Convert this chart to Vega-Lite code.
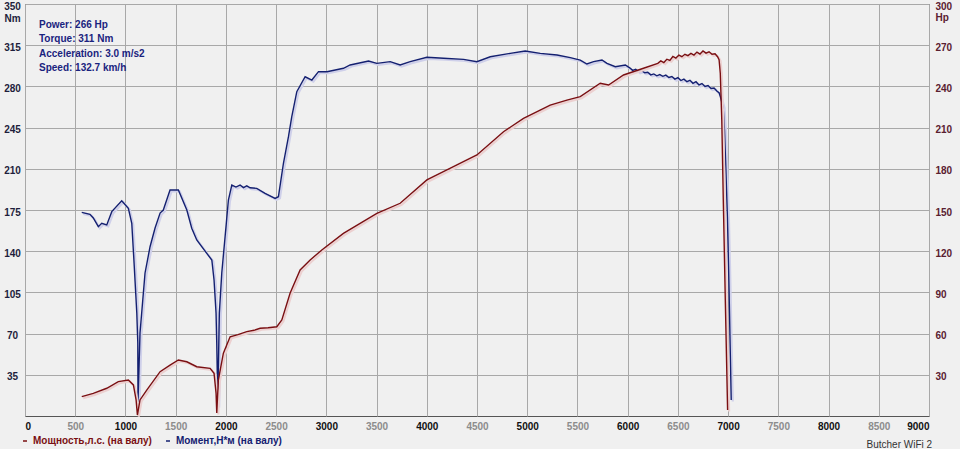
{
  "$schema": "https://vega.github.io/schema/vega-lite/v6.json",
  "width": 904,
  "height": 412,
  "autosize": {"type": "none"},
  "padding": {"left": 25, "top": 4, "right": 31, "bottom": 33},
  "background": "#f0f0f0",
  "config": {
    "view": {"stroke": "#555555", "strokeWidth": 1, "fill": "#f0f0f0"},
    "font": "Liberation Sans",
    "axis": {
      "labelFont": "Liberation Sans",
      "labelFontSize": 10,
      "labelFontWeight": "bold",
      "ticks": false,
      "gridColor": "#a8a8a8",
      "gridOpacity": 1,
      "gridWidth": 1,
      "domain": false
    }
  },
  "title": {
    "text": ["Power: 266 Hp", "Torque: 311 Nm", "Acceleration: 3.0 m/s2", "Speed: 132.7 km/h"],
    "anchor": "start",
    "frame": "group",
    "orient": "top",
    "baseline": "top",
    "dx": 14,
    "offset": -72,
    "lineHeight": 14.5,
    "fontSize": 10,
    "font": "Liberation Sans",
    "fontWeight": "bold",
    "color": "#1a237e"
  },
  "datasets": {
    "torque": [
      {"rpm": 565, "nm": 173.0}, {"rpm": 647, "nm": 171.3}, {"rpm": 680, "nm": 168.2}, {"rpm": 730, "nm": 160.8},
      {"rpm": 764, "nm": 163.7}, {"rpm": 814, "nm": 162.3}, {"rpm": 864, "nm": 173.6}, {"rpm": 963, "nm": 182.9},
      {"rpm": 1029, "nm": 176.4}, {"rpm": 1063, "nm": 163.7}, {"rpm": 1086, "nm": 129.8}, {"rpm": 1113, "nm": 87.5},
      {"rpm": 1123, "nm": 62.0}, {"rpm": 1125, "nm": 11.9}, {"rpm": 1145, "nm": 70.5}, {"rpm": 1195, "nm": 121.5},
      {"rpm": 1245, "nm": 143.8}, {"rpm": 1295, "nm": 159.7}, {"rpm": 1345, "nm": 172.4}, {"rpm": 1377, "nm": 175.0},
      {"rpm": 1444, "nm": 192.0}, {"rpm": 1527, "nm": 192.0}, {"rpm": 1611, "nm": 175.0}, {"rpm": 1660, "nm": 159.5},
      {"rpm": 1710, "nm": 149.5}, {"rpm": 1810, "nm": 138.2}, {"rpm": 1860, "nm": 132.5}, {"rpm": 1882, "nm": 115.5},
      {"rpm": 1902, "nm": 87.5}, {"rpm": 1909, "nm": 62.0}, {"rpm": 1915, "nm": 33.4}, {"rpm": 1918, "nm": 8.5},
      {"rpm": 1935, "nm": 87.5}, {"rpm": 1959, "nm": 121.5}, {"rpm": 1992, "nm": 152.3}, {"rpm": 2025, "nm": 183.5},
      {"rpm": 2059, "nm": 196.2}, {"rpm": 2100, "nm": 194.5}, {"rpm": 2141, "nm": 196.2}, {"rpm": 2175, "nm": 194.0},
      {"rpm": 2208, "nm": 195.5}, {"rpm": 2241, "nm": 193.9}, {"rpm": 2307, "nm": 193.4}, {"rpm": 2390, "nm": 189.2},
      {"rpm": 2490, "nm": 184.9}, {"rpm": 2523, "nm": 186.3}, {"rpm": 2573, "nm": 214.7}, {"rpm": 2623, "nm": 237.3},
      {"rpm": 2656, "nm": 254.3}, {"rpm": 2706, "nm": 275.5}, {"rpm": 2789, "nm": 288.2}, {"rpm": 2856, "nm": 285.4},
      {"rpm": 2922, "nm": 292.5}, {"rpm": 3006, "nm": 292.5}, {"rpm": 3171, "nm": 295.4}, {"rpm": 3237, "nm": 298.2},
      {"rpm": 3420, "nm": 301.6}, {"rpm": 3503, "nm": 299.6}, {"rpm": 3636, "nm": 301.0}, {"rpm": 3735, "nm": 298.2},
      {"rpm": 3835, "nm": 301.0}, {"rpm": 4001, "nm": 304.7}, {"rpm": 4167, "nm": 303.9}, {"rpm": 4366, "nm": 303.0},
      {"rpm": 4499, "nm": 301.0}, {"rpm": 4632, "nm": 305.2}, {"rpm": 4831, "nm": 308.1}, {"rpm": 4980, "nm": 310.1},
      {"rpm": 5130, "nm": 308.1}, {"rpm": 5297, "nm": 306.7}, {"rpm": 5429, "nm": 304.5}, {"rpm": 5528, "nm": 302.4},
      {"rpm": 5594, "nm": 299.0}, {"rpm": 5661, "nm": 301.0}, {"rpm": 5744, "nm": 302.4}, {"rpm": 5794, "nm": 299.6},
      {"rpm": 5877, "nm": 296.7}, {"rpm": 5977, "nm": 298.2},
      {"rpm": 6020, "nm": 295.8}, {"rpm": 6050, "nm": 293.6}, {"rpm": 6080, "nm": 294.6}, {"rpm": 6110, "nm": 292.4},
      {"rpm": 6140, "nm": 293.4}, {"rpm": 6170, "nm": 291.6}, {"rpm": 6200, "nm": 292.0}, {"rpm": 6230, "nm": 289.8},
      {"rpm": 6260, "nm": 290.6}, {"rpm": 6290, "nm": 289.0}, {"rpm": 6320, "nm": 290.0}, {"rpm": 6350, "nm": 288.6},
      {"rpm": 6380, "nm": 289.6}, {"rpm": 6410, "nm": 287.6}, {"rpm": 6440, "nm": 288.4}, {"rpm": 6470, "nm": 286.2},
      {"rpm": 6500, "nm": 287.4}, {"rpm": 6530, "nm": 285.0}, {"rpm": 6560, "nm": 286.2}, {"rpm": 6590, "nm": 284.0},
      {"rpm": 6620, "nm": 285.2}, {"rpm": 6650, "nm": 282.6}, {"rpm": 6680, "nm": 284.0}, {"rpm": 6710, "nm": 281.2},
      {"rpm": 6740, "nm": 282.4}, {"rpm": 6770, "nm": 280.0}, {"rpm": 6800, "nm": 280.8}, {"rpm": 6830, "nm": 278.2},
      {"rpm": 6860, "nm": 278.6}, {"rpm": 6890, "nm": 275.8}, {"rpm": 6910, "nm": 274.6},
      {"rpm": 6923, "nm": 271.2}, {"rpm": 6950, "nm": 262.7}, {"rpm": 6964, "nm": 243.0},
      {"rpm": 6977, "nm": 211.8}, {"rpm": 6993, "nm": 169.3}, {"rpm": 7008, "nm": 113.0}, {"rpm": 7031, "nm": 13.6}
    ],
    "power": [
      {"rpm": 565, "hp": 14.1}, {"rpm": 680, "hp": 16.5}, {"rpm": 814, "hp": 20.2}, {"rpm": 929, "hp": 25.0},
      {"rpm": 1029, "hp": 26.2}, {"rpm": 1079, "hp": 22.6}, {"rpm": 1106, "hp": 11.7}, {"rpm": 1119, "hp": 0.7},
      {"rpm": 1145, "hp": 11.7}, {"rpm": 1212, "hp": 18.9}, {"rpm": 1345, "hp": 32.3}, {"rpm": 1444, "hp": 37.1},
      {"rpm": 1527, "hp": 40.8}, {"rpm": 1611, "hp": 39.5}, {"rpm": 1710, "hp": 35.9}, {"rpm": 1843, "hp": 34.7},
      {"rpm": 1882, "hp": 31.1}, {"rpm": 1902, "hp": 16.7}, {"rpm": 1909, "hp": 2.2}, {"rpm": 1925, "hp": 26.2},
      {"rpm": 1975, "hp": 45.7}, {"rpm": 2042, "hp": 57.7}, {"rpm": 2120, "hp": 59.3}, {"rpm": 2208, "hp": 61.4},
      {"rpm": 2280, "hp": 62.4}, {"rpm": 2341, "hp": 63.9}, {"rpm": 2420, "hp": 64.3},
      {"rpm": 2507, "hp": 65.0}, {"rpm": 2557, "hp": 69.9}, {"rpm": 2639, "hp": 89.4}, {"rpm": 2739, "hp": 106.3},
      {"rpm": 2839, "hp": 113.6}, {"rpm": 2955, "hp": 120.9}, {"rpm": 3170, "hp": 133.0}, {"rpm": 3503, "hp": 147.6},
      {"rpm": 3735, "hp": 154.9}, {"rpm": 4001, "hp": 171.9}, {"rpm": 4300, "hp": 182.8}, {"rpm": 4499, "hp": 190.1},
      {"rpm": 4764, "hp": 207.0}, {"rpm": 4963, "hp": 216.7}, {"rpm": 5129, "hp": 222.8}, {"rpm": 5229, "hp": 226.4},
      {"rpm": 5395, "hp": 230.0}, {"rpm": 5528, "hp": 232.5}, {"rpm": 5727, "hp": 242.3}, {"rpm": 5810, "hp": 241.0},
      {"rpm": 5959, "hp": 248.3}, {"rpm": 6158, "hp": 253.2},
      {"rpm": 6300, "hp": 256.8}, {"rpm": 6330, "hp": 258.6}, {"rpm": 6360, "hp": 257.4}, {"rpm": 6390, "hp": 259.8},
      {"rpm": 6420, "hp": 259.0}, {"rpm": 6450, "hp": 261.8}, {"rpm": 6480, "hp": 260.6}, {"rpm": 6510, "hp": 262.8},
      {"rpm": 6540, "hp": 261.6}, {"rpm": 6570, "hp": 263.4}, {"rpm": 6600, "hp": 262.4}, {"rpm": 6630, "hp": 264.0},
      {"rpm": 6660, "hp": 262.8}, {"rpm": 6690, "hp": 265.0}, {"rpm": 6720, "hp": 263.6}, {"rpm": 6750, "hp": 265.8},
      {"rpm": 6780, "hp": 264.2}, {"rpm": 6810, "hp": 265.2}, {"rpm": 6840, "hp": 263.4}, {"rpm": 6870, "hp": 263.8},
      {"rpm": 6895, "hp": 261.6}, {"rpm": 6910, "hp": 259.5},
      {"rpm": 6922, "hp": 249.6}, {"rpm": 6937, "hp": 215.5}, {"rpm": 6952, "hp": 157.3},
      {"rpm": 6972, "hp": 84.5}, {"rpm": 6995, "hp": 4.4}
    ]
  },
  "encoding": {
    "x": {
      "field": "rpm",
      "type": "quantitative",
      "scale": {"domain": [0, 9000], "nice": false, "zero": false},
      "axis": {
        "values": [0, 500, 1000, 1500, 2000, 2500, 3000, 3500, 4000, 4500, 5000, 5500, 6000, 6500, 7000, 7500, 8000, 8500, 9000],
        "format": "d",
        "labelPadding": 5,
        "labelColor": {"condition": {"test": "datum.value % 1000 === 0", "value": "#111111"}, "value": "#8c8c8c"},
        "title": "Butcher WiFi 2",
        "titleX": 841,
        "titleY": 23,
        "titleAlign": "left",
        "titleAnchor": null,
        "titleBaseline": "top",
        "titleFont": "Liberation Sans",
        "titleFontSize": 10,
        "titleFontWeight": "normal",
        "titleColor": "#333333"
      }
    }
  },
  "layer": [
    {
      "data": {"name": "torque"},
      "encoding": {
        "y": {
          "field": "nm",
          "type": "quantitative",
          "scale": {"domain": [0, 350], "nice": false},
          "axis": {
            "orient": "left",
            "values": [35, 70, 105, 140, 175, 210, 245, 280, 315, 350],
            "labelAlign": "center",
            "labelPadding": 13,
            "labelBaseline": "middle",
            "labelOffset": 2,
            "labelColor": "#1e1e3c",
            "title": "Nm",
            "titleAngle": 0,
            "titleX": -13,
            "titleY": 9,
            "titleAlign": "center",
            "titleBaseline": "top",
            "titleFont": "Liberation Sans",
            "titleFontSize": 10,
            "titleFontWeight": "bold",
            "titleColor": "#1e1e3c"
          }
        }
      },
      "layer": [
        {
          "mark": {"type": "line", "stroke": "#cfd0ea", "strokeWidth": 2.2, "xOffset": 1.5, "yOffset": 1.5}
        },
        {
          "mark": {"type": "line", "strokeWidth": 1.4},
          "encoding": {
            "color": {
              "datum": "Момент,Н*м (на валу)",
              "type": "nominal",
              "scale": {"domain": ["Мощность,л.с. (на валу)", "Момент,Н*м (на валу)"], "range": ["#7a0f12", "#142070"]},
              "legend": {
                "orient": "none",
                "legendX": -5,
                "legendY": 432,
                "direction": "horizontal",
                "title": null,
                "padding": 0,
                "symbolType": "stroke",
                "symbolSize": 16,
                "symbolStrokeWidth": 1.5,
                "labelFont": "Liberation Sans",
                "labelFontSize": 10,
                "labelFontWeight": "bold",
                "labelLimit": 300,
                "labelOffset": 3,
                "columnPadding": 11,
                "encode": {"labels": {"update": {"fill": {"scale": "color", "field": "value"}}}}
              }
            }
          }
        }
      ]
    },
    {
      "data": {"name": "power"},
      "encoding": {
        "y": {
          "field": "hp",
          "type": "quantitative",
          "scale": {"domain": [0, 300], "nice": false},
          "axis": {
            "orient": "right",
            "grid": false,
            "values": [30, 60, 90, 120, 150, 180, 210, 240, 270, 300],
            "labelAlign": "left",
            "labelPadding": 6,
            "labelBaseline": "middle",
            "labelOffset": 2,
            "labelColor": "#5a2030",
            "title": "Hp",
            "titleAngle": 0,
            "titleX": 6,
            "titleY": 8,
            "titleAlign": "left",
            "titleBaseline": "top",
            "titleFont": "Liberation Sans",
            "titleFontSize": 10,
            "titleFontWeight": "bold",
            "titleColor": "#5a2030"
          }
        }
      },
      "layer": [
        {
          "mark": {"type": "line", "stroke": "#ecd0d0", "strokeWidth": 2.2, "xOffset": 1.5, "yOffset": 1.5}
        },
        {
          "mark": {"type": "line", "strokeWidth": 1.4},
          "encoding": {
            "color": {"datum": "Мощность,л.с. (на валу)", "type": "nominal"}
          }
        }
      ]
    }
  ],
  "resolve": {"scale": {"y": "independent"}}
}
